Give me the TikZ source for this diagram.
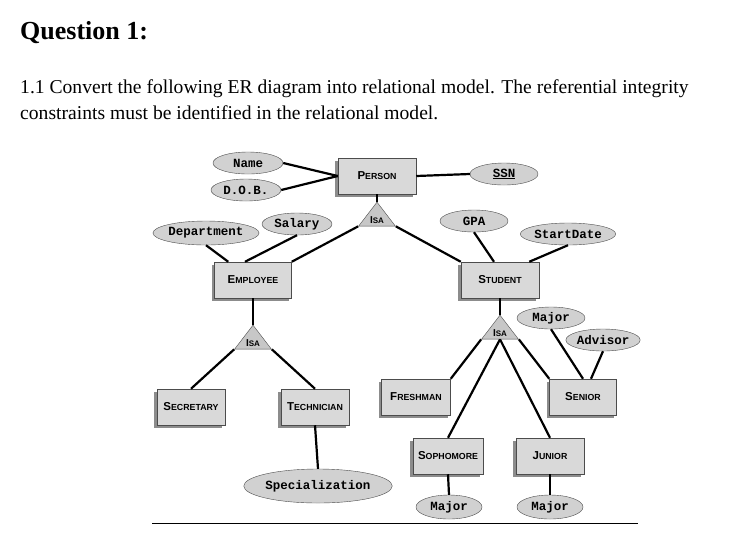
\documentclass[tikz,border=0pt]{standalone}
\usepackage{fontspec}
\setmainfont{Liberation Serif}
\setsansfont{Liberation Sans}
\setmonofont{Liberation Mono}
\usetikzlibrary{shapes.geometric}
\newcommand{\sce}[2]{\sffamily\bfseries{\fontsize{11.5}{10}\selectfont #1}{\fontsize{8.8}{8}\selectfont #2}}
\tikzset{
  ent/.style={draw=black!70, fill=black!15, minimum height=36pt, inner sep=0pt, line width=0.5pt},
  attr/.style={ellipse, draw=black!70, fill=black!18, inner sep=0pt, minimum height=22pt,
    font=\ttfamily\bfseries\fontsize{12.5}{12}\selectfont},
  isa/.style={isosceles triangle, shape border rotate=90, isosceles triangle apex angle=75,
    draw=black!70, fill=black!22, inner sep=1.5pt, minimum height=24pt, font=\sffamily\bfseries\fontsize{10}{8}\selectfont},
  con/.style={line width=2.2pt}
}
\begin{document}
\begin{tikzpicture}[x=1pt,y=-1pt]
\useasboundingbox (0,0) rectangle (744,558);
\node[anchor=base west, font=\bfseries\fontsize{26}{26}\selectfont, inner sep=0] (q) at (20,39) {Question 1:};
\node[anchor=base west, font=\fontsize{19.6}{19}\selectfont, inner sep=0] (l1) at (20,93) {1.1 Convert the following ER diagram into relational model. The referential integrity};
\node[anchor=base west, font=\fontsize{19.6}{19}\selectfont, inner sep=0] (l2) at (20,119) {constraints must be identified in the relational model.};
% shadows
\foreach \x/\y/\w in {377/176/78,253/280/77,500/280/78,191/407/68,315/407/68,416/397/69,583/397/67,448/456/70,550/456/68}
  \fill[black!45] (\x-\w/2-3,\y-18+3) rectangle (\x+\w/2-3,\y+18+3);
\node[ent, minimum width=78pt] (person) at (377,176) {\sce{P}{ERSON}};
\node[ent, minimum width=77pt] (emp) at (253,280) {\sce{E}{MPLOYEE}};
\node[ent, minimum width=78pt] (stu) at (500,280) {\sce{S}{TUDENT}};
\node[ent, minimum width=68pt] (sec) at (191,407) {\sce{S}{ECRETARY}};
\node[ent, minimum width=68pt] (tech) at (315,407) {\sce{T}{ECHNICIAN}};
\node[ent, minimum width=69pt] (fresh) at (416,397) {\sce{F}{RESHMAN}};
\node[ent, minimum width=67pt] (sen) at (583,397) {\sce{S}{ENIOR}};
\node[ent, minimum width=70pt] (soph) at (448,456) {\sce{S}{OPHOMORE}};
\node[ent, minimum width=68pt] (jun) at (550,456) {\sce{J}{UNIOR}};
\node[attr, minimum width=70pt] (name) at (248,163) {Name};
\node[attr, minimum width=70pt] (dob) at (246,190) {D.O.B.};
\node[attr, minimum width=68pt] (ssn) at (504,174) {\underline{SSN}};
\node[attr, minimum width=98pt, minimum height=24pt] (dep) at (206,233) {Department};
\node[attr, minimum width=70pt] (sal) at (297,224) {Salary};
\node[attr, minimum width=68pt] (gpa) at (474,221) {GPA};
\node[attr, minimum width=78pt] (sd) at (568,234) {StartDate};
\node[attr, minimum width=114pt, minimum height=34pt] (spec) at (318,486) {Specialization};
\node[attr, minimum width=68pt] (maj1) at (551,318) {Major};
\node[attr, minimum width=68pt] (adv) at (603,340) {Advisor};
\node[attr, minimum width=66pt, minimum height=24pt] (maj2) at (449,507) {Major};
\node[attr, minimum width=66pt, minimum height=24pt] (maj3) at (550,507) {Major};
\node[isa] (isa1) at (377,220) {I{\fontsize{8}{7}\selectfont SA}};
\node[isa] (isa2) at (253,343) {I{\fontsize{8}{7}\selectfont SA}};
\node[isa] (isa3) at (500,333) {I{\fontsize{8}{7}\selectfont SA}};
\draw[con] (name.east) -- (person.west);
\draw[con] (dob.east) -- (person.west);
\draw[con] (person.east) -- (ssn.west);
\draw[con] (person.south) -- (isa1.apex);
\draw[con] (isa1.left corner) -- (emp.north east);
\draw[con] (isa1.right corner) -- (stu.north west);
\draw[con] (dep.south) -- ([xshift=14pt]emp.north west);
\draw[con] (sal.south) -- ([xshift=-8pt]emp.north);
\draw[con] (gpa.south) -- ([xshift=-6pt]stu.north);
\draw[con] (sd.south) -- ([xshift=-10pt]stu.north east);
\draw[con] (emp.south) -- (isa2.apex);
\draw[con] (isa2.left corner) -- (sec.north);
\draw[con] (isa2.right corner) -- (tech.north);
\draw[con] (tech.south) -- (spec.north);
\draw[con] (stu.south) -- (isa3.apex);
\draw[con] (isa3.left corner) -- (fresh.north east);
\draw[con] (isa3.south) -- (soph.north);
\draw[con] (isa3.south) -- (jun.north);
\draw[con] (isa3.right corner) -- (sen.north west);
\draw[con] (maj1.south) -- (sen.north);
\draw[con] (adv.south) -- ([xshift=8pt]sen.north);
\draw[con] (soph.south) -- (maj2.north);
\draw[con] (jun.south) -- (maj3.north);
\coordinate (r1) at (152,523); \coordinate (r2) at (638,523);
\draw[line width=1pt] (r1) -- (r2);
\end{tikzpicture}
\end{document}
